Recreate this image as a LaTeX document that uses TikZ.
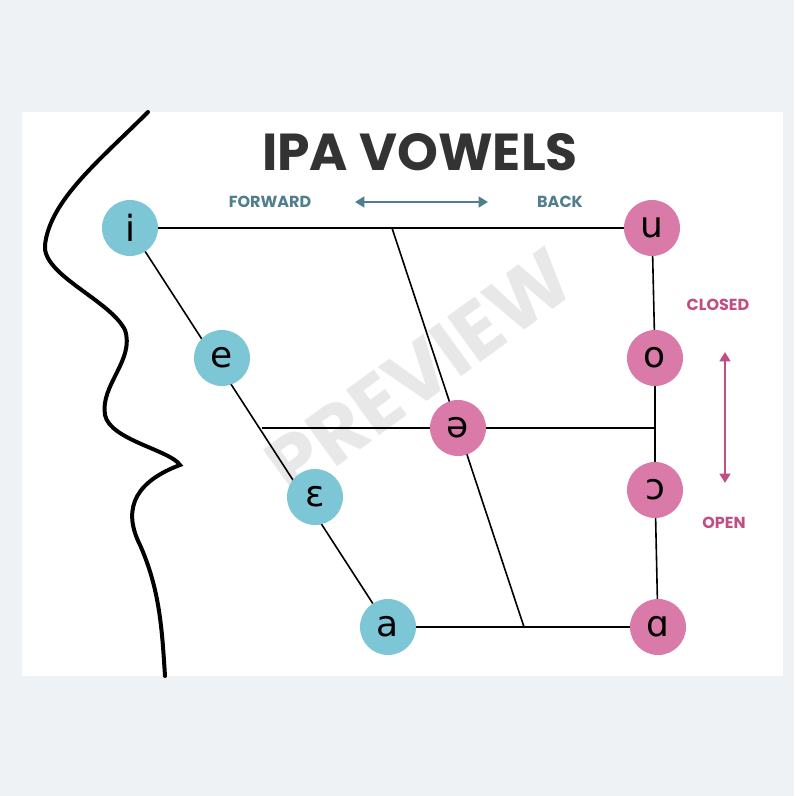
\documentclass[tikz,border=0pt]{standalone}
\usepackage{fontspec}
\setmainfont{Poppins}
\newfontfamily\ipafont{DejaVu Sans}
\usetikzlibrary{arrows.meta}
\definecolor{teal1}{HTML}{7CC6D6}
\definecolor{pink1}{HTML}{D97AA8}
\definecolor{tealtx}{HTML}{4F7F8C}
\definecolor{pinktx}{HTML}{C24D84}
\definecolor{bgc}{HTML}{EEF2F5}
\tikzset{
 vow/.style={circle,minimum size=42pt,inner sep=0pt,font=\ipafont\fontsize{27}{27}\selectfont},
 tv/.style={vow,fill=teal1},
 pv/.style={vow,fill=pink1},
 ln/.style={line width=1.2pt,black},
 lbl/.style={font=\bfseries\fontsize{12}{12}\selectfont},
}
\begin{document}
\begin{tikzpicture}[x=0.75pt,y=-0.75pt]
\useasboundingbox (0,0) rectangle (794,796);
\fill[bgc] (0,0) rectangle (794,796);
\fill[white] (22,112) rectangle (783,676);
\node[text=black!9,rotate=36,font=\bfseries\fontsize{60}{60}\selectfont] (wm) at (420,372) {PREVIEW};
% face
\draw[line width=3pt,line cap=round] (148,112) .. controls (100,160) and (50,200) .. (45,245)
 .. controls (42,275) and (110,300) .. (125,330)
 .. controls (135,360) and (100,385) .. (105,415)
 .. controls (110,440) and (170,450) .. (180,465)
 .. controls (140,480) and (120,505) .. (140,545)
 .. controls (160,590) and (162,630) .. (165,676);
\node[font=\bfseries\fontsize{39}{39}\selectfont,text=black!80] (title) at (420,152) {IPA VOWELS};
\node[lbl,text=tealtx] (fw) at (270,202) {FORWARD};
\node[lbl,text=tealtx] (bk) at (560,202) {BACK};
\coordinate (fa) at (355,202); \coordinate (fb) at (488,202);
\draw[tealtx,line width=2pt,{Triangle[length=7pt,width=8pt]}-{Triangle[length=7pt,width=8pt]}] (fa) -- (fb);
\node[lbl,text=pinktx] (cl) at (718,305) {CLOSED};
\node[lbl,text=pinktx] (op) at (724,523) {OPEN};
\coordinate (ca) at (725,352); \coordinate (cb) at (725,483);
\draw[pinktx,line width=2pt,{Triangle[length=7pt,width=8pt]}-{Triangle[length=7pt,width=8pt]}] (ca) -- (cb);
% nodes positions
\coordinate (pi) at (130,228); \coordinate (pu) at (652,228);
\coordinate (pe) at (222,358); \coordinate (po) at (655,358);
\coordinate (pschwa) at (458,428); \coordinate (peps) at (315,497);
\coordinate (popen) at (655,490); \coordinate (pa) at (388,627); \coordinate (palpha) at (658,627);
\coordinate (t1) at (392,228); \coordinate (b1) at (524,627);
\coordinate (l1) at (262,428); \coordinate (r1) at (655,428);
% lines
\draw[ln] (pi) -- (pu);
\draw[ln] (pi) -- (pa);
\draw[ln] (t1) -- (b1);
\draw[ln] (l1) -- (r1);
\draw[ln] (pu) -- (655,358) -- (655,490) -- (palpha);
\draw[ln] (pa) -- (palpha);
% vowels
\node[tv] (i) at (pi) {i};
\node[pv] (u) at (pu) {u};
\node[tv] (e) at (pe) {e};
\node[pv] (o) at (po) {o};
\node[pv] (schwa) at (pschwa) {ə};
\node[tv] (eps) at (peps) {ɛ};
\node[pv] (oo) at (popen) {ɔ};
\node[tv] (a) at (pa) {a};
\node[pv] (al) at (palpha) {ɑ};
\end{tikzpicture}
\end{document}
